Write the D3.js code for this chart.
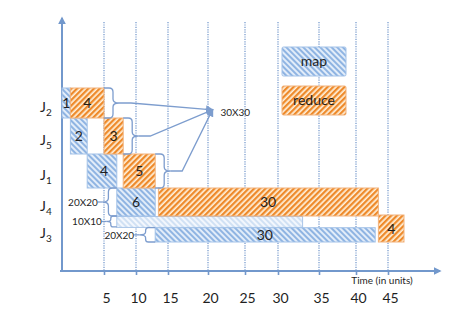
<!DOCTYPE html>
<html>
<head>
<meta charset="utf-8">
<script src="https://cdn.jsdelivr.net/npm/d3@7"></script>
<style>
  body { margin: 0; background: #fff; }
  svg { display: block; }
  text { font-family: Lato, "Open Sans", sans-serif; }
</style>
</head>
<body>
<svg id="chart" width="474" height="335"></svg>
<script>
// Jobs in schedule order, top to bottom
const jobs = ["J2", "J5", "J1", "J4", "J3"];
// Map phase per job (time units)
const mapStart    = [0, 1, 3, 7, 13];
const mapDuration = [1, 2, 4, 6, 30];
// Reduce phase per job (time units)
const reduceStart    = [1, 5, 8, 13.5, 43.5];
const reduceDuration = [4, 3, 5, 30, 4];
// Waiting transfer shown above J3's map phase
const transferStart = [7];
const transferEnd   = [33];
// Transfer sizes
const shuffleLabels = ["20X20", "10X10", "20X20"];
const mergeLabel = "30X30";
// Time axis
const timeTicks = [5, 10, 15, 20, 25, 30, 35, 40, 45];
const axisTitle = "Time (in units)";
const legendItems = ["map", "reduce"];

const svg = d3.select("#chart");
const axisColor = "#7298cc";
const noteColor = "#7d9dce";
const textColor = "#1f1f1f";

// Time scale: hand-placed grid spacing, one segment per tick interval
const x = d3.scaleLinear()
  .domain([0, ...timeTicks])
  .range([62, 104, 136, 168, 208, 245, 278, 319, 356, 388]);
// Row scale: row index -> vertical edge
const y = d3.scaleLinear()
  .domain([0, 1, 2, 3, 4, 5])
  .range([88, 118, 154, 188, 216, 242]);

const defs = svg.append("defs");
function stripes(id, bg, fg, width, angle) {
  const p = defs.append("pattern")
    .attr("id", id).attr("patternUnits", "userSpaceOnUse")
    .attr("width", 4).attr("height", 4)
    .attr("patternTransform", `rotate(${angle})`);
  p.append("rect").attr("width", 4).attr("height", 4).attr("fill", bg);
  p.append("line").attr("x1", 1).attr("x2", 1).attr("y1", 0).attr("y2", 4)
    .attr("stroke", fg).attr("stroke-width", width);
}
stripes("mapFill", "#e4eefa", "#8fb4e2", 2.1, -45);
stripes("reduceFill", "#fff1dc", "#ee8a2b", 2.6, 45);
stripes("transferFill", "#f3f7fd", "#cddff3", 1.8, -45);

function arrowMarker(id, color, size) {
  defs.append("marker")
    .attr("id", id).attr("viewBox", "0 0 10 10")
    .attr("refX", 8).attr("refY", 5)
    .attr("markerWidth", size).attr("markerHeight", size)
    .attr("markerUnits", "userSpaceOnUse")
    .attr("orient", "auto")
    .append("path").attr("d", "M0,0 L10,5 L0,10 Z").attr("fill", color);
}
arrowMarker("axisArrow", axisColor, 8);
arrowMarker("noteArrow", noteColor, 8);

// Dotted grid lines at each tick
const gridTop = 22, axisY = 271;
svg.append("g").selectAll("line").data(timeTicks).join("line")
  .attr("x1", d => x(d)).attr("x2", d => x(d))
  .attr("y1", gridTop).attr("y2", axisY)
  .attr("stroke", "#93afd8").attr("stroke-width", 1.6)
  .attr("stroke-dasharray", "1.2 1.2");

// Axes
svg.append("line")
  .attr("x1", x(0)).attr("x2", x(0)).attr("y1", axisY).attr("y2", 18)
  .attr("stroke", axisColor).attr("stroke-width", 2)
  .attr("marker-end", "url(#axisArrow)");
svg.append("line")
  .attr("x1", x(0) - 2).attr("x2", 440).attr("y1", axisY).attr("y2", axisY)
  .attr("stroke", axisColor).attr("stroke-width", 2)
  .attr("marker-end", "url(#axisArrow)");

const xAxis = svg.append("g")
  .attr("transform", `translate(0,${axisY})`)
  .call(d3.axisBottom(x).tickValues(timeTicks).tickSize(4).tickPadding(18).tickFormat(d3.format("d")));
xAxis.select(".domain").remove();
xAxis.selectAll(".tick line").attr("stroke", axisColor).attr("stroke-width", 1.6);
xAxis.selectAll(".tick text")
  .attr("fill", textColor).attr("font-size", 14).attr("dx", 2)
  .style("font-family", "Lato, sans-serif");

svg.append("text")
  .attr("x", 382).attr("y", 284).attr("text-anchor", "middle")
  .attr("font-size", 10).attr("fill", textColor).text(axisTitle);

// Job labels with subscripts
const jobLabel = svg.append("g").selectAll("text").data(jobs).join("text")
  .attr("x", 40)
  .attr("y", (d, i) => i < 4 ? (y(i) + y(i + 1)) / 2 + 9 : (y(4.45) + y(5)) / 2 + 3)
  .attr("font-size", 14).attr("fill", textColor);
jobLabel.append("tspan").text(d => d[0]);
jobLabel.append("tspan").attr("font-size", 10).attr("dy", 4).text(d => d.slice(1));

// Bars
const j3Split = 4.45;
const rows = jobs.map((job, i) => ({
  i,
  top: i === 4 ? y(j3Split) : y(i),
  bottom: y(i + 1),
}));

const bars = svg.append("g");
// Transfer bar above J3's map phase
bars.selectAll("rect.transfer").data(transferStart).join("rect")
  .attr("class", "transfer")
  .attr("x", (d) => x(d)).attr("width", (d, k) => x(transferEnd[k]) - x(d))
  .attr("y", y(4) + 0.5).attr("height", y(4.42) - y(4))
  .attr("fill", "url(#transferFill)").attr("stroke", "#a9c5e8").attr("stroke-width", 1);

bars.selectAll("rect.map").data(rows).join("rect")
  .attr("class", "map")
  .attr("x", d => x(mapStart[d.i]))
  .attr("width", d => x(mapStart[d.i] + mapDuration[d.i]) - x(mapStart[d.i]))
  .attr("y", d => d.top).attr("height", d => d.bottom - d.top)
  .attr("fill", "url(#mapFill)").attr("stroke", "#a3c2e8").attr("stroke-width", 1);

bars.selectAll("rect.reduce").data(rows).join("rect")
  .attr("class", "reduce")
  .attr("x", d => x(reduceStart[d.i]))
  .attr("width", d => x(reduceStart[d.i] + reduceDuration[d.i]) - x(reduceStart[d.i]))
  .attr("y", d => d.i === 4 ? y(4) - 1 : d.top)
  .attr("height", d => d.i === 4 ? d.bottom - y(4) + 1 : d.bottom - d.top)
  .attr("fill", "url(#reduceFill)").attr("stroke", "#f1b27c").attr("stroke-width", 1);

// Duration labels
const labelG = svg.append("g").attr("font-size", 14).attr("fill", textColor).attr("text-anchor", "middle");
labelG.selectAll("text.m").data(rows).join("text")
  .attr("x", d => x(mapStart[d.i] + mapDuration[d.i] / 2))
  .attr("y", d => (d.top + d.bottom) / 2 + 5)
  .text(d => mapDuration[d.i]);
labelG.selectAll("text.r").data(rows).join("text")
  .attr("x", d => x(reduceStart[d.i] + reduceDuration[d.i] / 2))
  .attr("y", d => d.i === 4 ? (y(4) + d.bottom) / 2 + 5 : (d.top + d.bottom) / 2 + 5)
  .text(d => reduceDuration[d.i]);

// Curly brace helpers
function rightBrace(x0, y0, y1, w) {
  const h = w * 0.6, m = (y0 + y1) / 2, r = Math.min(4, (y1 - y0) / 5);
  return `M${x0},${y0} L${x0 + h - r},${y0} Q${x0 + h},${y0} ${x0 + h},${y0 + r}
    L${x0 + h},${m - r} Q${x0 + h},${m} ${x0 + w},${m} Q${x0 + h},${m} ${x0 + h},${m + r}
    L${x0 + h},${y1 - r} Q${x0 + h},${y1} ${x0 + h - r},${y1} L${x0},${y1}`;
}
function leftBrace(x0, y0, y1, w) {
  const h = w * 0.6, m = (y0 + y1) / 2, r = Math.min(4, (y1 - y0) / 5);
  return `M${x0},${y0} L${x0 - h + r},${y0} Q${x0 - h},${y0} ${x0 - h},${y0 + r}
    L${x0 - h},${m - r} Q${x0 - h},${m} ${x0 - w},${m} Q${x0 - h},${m} ${x0 - h},${m + r}
    L${x0 - h},${y1 - r} Q${x0 - h},${y1} ${x0 - h + r},${y1} L${x0},${y1}`;
}

const notes = svg.append("g").attr("fill", "none").attr("stroke", noteColor).attr("stroke-width", 1.3);
const target = [x(20.6), y(0.73)];
// Reduce outputs of J2, J5, J1 merge into one transfer
[0, 1, 2].forEach(i => {
  const x0 = x(reduceStart[i] + reduceDuration[i]);
  const w = 15;
  notes.append("path").attr("d", rightBrace(x0, y(i), y(i + 1), w));
  const m = (y(i) + y(i + 1)) / 2;
  notes.append("path")
    .attr("d", `M${x0 + w},${m} L${x0 + w + 12},${m} L${target[0]},${target[1]}`)
    .attr("marker-end", "url(#noteArrow)");
});
svg.append("text")
  .attr("x", target[0] + 8).attr("y", target[1] + 6)
  .attr("font-size", 10).attr("fill", textColor).text(mergeLabel);

// Shuffle callouts on the left of J4 map, transfer bar, J3 map
const callouts = [
  { x0: x(mapStart[3]), y0: y(3), y1: y(4), w: 14 },
  { x0: x(transferStart[0]), y0: y(4), y1: y(4.42), w: 10 },
  { x0: x(mapStart[4]), y0: y(j3Split), y1: y(5), w: 16 },
];
callouts.forEach((c, k) => {
  notes.append("path").attr("d", leftBrace(c.x0, c.y0, c.y1, c.w));
  const m = (c.y0 + c.y1) / 2;
  const tipX = c.x0 - c.w;
  notes.append("path").attr("d", `M${tipX},${m} L${tipX - 5},${m}`);
  svg.append("text")
    .attr("x", tipX - 5).attr("y", m + 4).attr("text-anchor", "end")
    .attr("font-size", 10).attr("fill", textColor).text(shuffleLabels[k]);
});

// Legend
const legend = svg.append("g");
const legendFills = ["url(#mapFill)", "url(#reduceFill)"];
const legendStrokes = ["#a3c2e8", "#f1b27c"];
legendItems.forEach((name, k) => {
  const top = 47 + k * 39;
  legend.append("rect")
    .attr("x", 282).attr("y", top).attr("width", 64).attr("height", 29)
    .attr("rx", 1.5)
    .attr("fill", legendFills[k]).attr("stroke", legendStrokes[k]).attr("stroke-width", 1);
  legend.append("text")
    .attr("x", 314).attr("y", top + 19).attr("text-anchor", "middle")
    .attr("font-size", 14).attr("fill", textColor).text(name);
});
</script>
</body>
</html>
